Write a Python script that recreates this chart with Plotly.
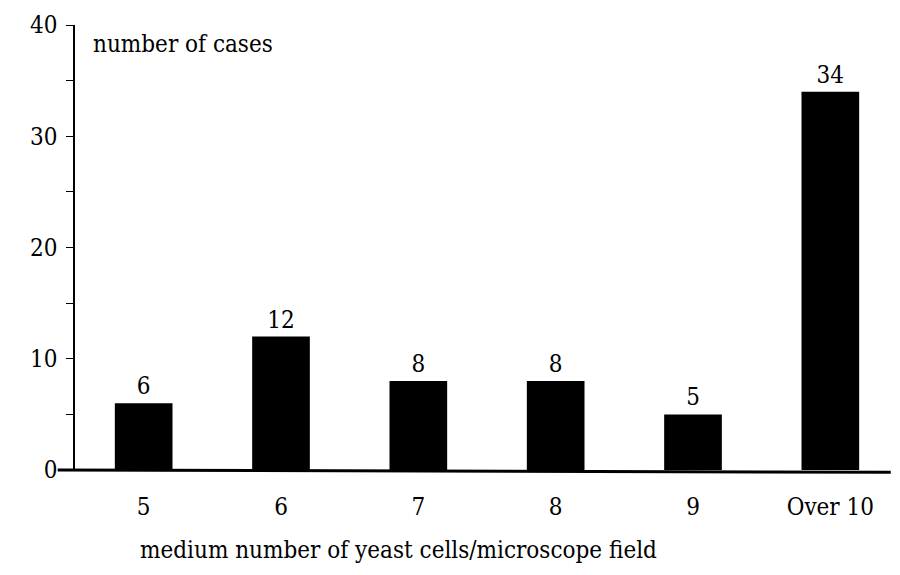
import plotly.graph_objects as go

categories = ["5", "6", "7", "8", "9", "Over 10"]
cases = [6, 12, 8, 8, 5, 34]
y_ticks = [0, 10, 20, 30, 40]

FONT = "DejaVu Serif Condensed, DejaVu Serif, serif"
FS = 24

fig = go.Figure()
fig.add_trace(go.Bar(
    x=categories, y=cases,
    marker=dict(color="black", line=dict(width=0)),
    width=0.42,
    text=[str(v) for v in cases],
    textposition="outside",
    textfont=dict(family=FONT, size=FS, color="black"),
    cliponaxis=False,
))

fig.update_layout(
    width=900, height=575,
    margin=dict(l=67, r=9, t=17, b=113, autoexpand=False),
    paper_bgcolor="white", plot_bgcolor="white",
    font=dict(family=FONT, size=FS, color="black"),
    showlegend=False,
    xaxis=dict(
        type="category", showline=False, showgrid=False, zeroline=False,
        automargin=False,
        ticks="", ticklabelstandoff=20,
        tickfont=dict(family=FONT, size=FS),
    ),
    yaxis=dict(
        range=[0, 40], showline=True, linecolor="black", linewidth=1.5,
        showgrid=False, zeroline=False, automargin=False,
        tickvals=y_ticks, ticks="outside", ticklen=7, tickwidth=1.2, tickcolor="black",
        minor=dict(dtick=5, tick0=0, ticks="outside", ticklen=7, tickwidth=1.2, tickcolor="black"),
        ticklabelstandoff=4,
        tickfont=dict(family=FONT, size=FS),
    ),
)

# baseline (x-axis line), extends left of the y axis and slopes slightly
fig.add_shape(type="line", xref="paper", yref="paper", x0=-0.021, x1=0.99, y0=0, y1=-0.005,
              line=dict(color="black", width=3), layer="below")

fig.add_annotation(text="number of cases", xref="paper", yref="paper", x=0.02, y=0.993,
                   xanchor="left", yanchor="top", showarrow=False,
                   font=dict(family=FONT, size=FS))
fig.add_annotation(text="medium number of yeast cells/microscope field", xref="paper", yref="paper",
                   x=0.392, y=-0.18, xanchor="center", yanchor="middle", showarrow=False,
                   font=dict(family=FONT, size=FS))

fig.write_html("out.html")
